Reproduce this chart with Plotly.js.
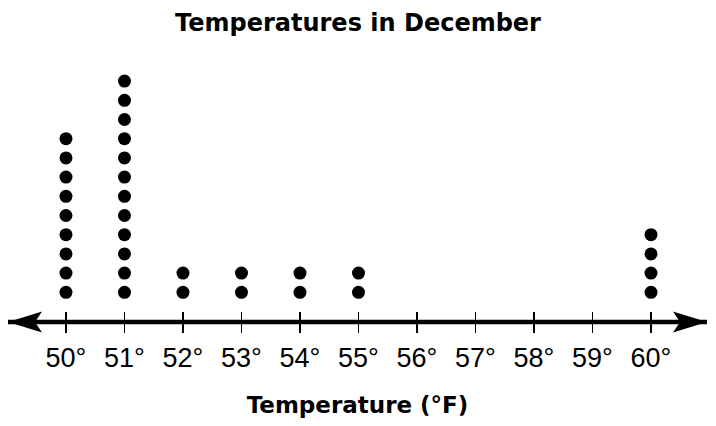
<!DOCTYPE html>
<html>
<head>
<meta charset="utf-8">
<script src="https://cdn.plot.ly/plotly-3.0.1.min.js"></script>
<style>
  html, body { margin: 0; padding: 0; background: #fff; }
  #plot { width: 716px; height: 426px; }
</style>
</head>
<body>
<div id="plot"></div>
<script>
// one dot per December day, stacked above its temperature
const temps = [50, 51, 52, 53, 54, 55, 56, 57, 58, 59, 60];
const dayCounts = [9, 12, 2, 2, 2, 2, 0, 0, 0, 0, 4];
const tickLabels = ['50°', '51°', '52°', '53°', '54°', '55°', '56°', '57°', '58°', '59°', '60°'];

const dotX = [];
const dotY = [];
temps.forEach((t, i) => {
  for (let k = 1; k <= dayCounts[i]; k++) {
    dotX.push(t);
    dotY.push(k);
  }
});

const xRange = [49.009, 60.957];
const labelFont = { family: 'Liberation Sans, Arial, sans-serif', size: 27, color: '#000' };
const boldFont = { family: 'DejaVu Sans, sans-serif', size: 24, color: '#000', weight: 'bold' };

const data = [
  {
    x: dotX,
    y: dotY,
    type: 'scatter',
    mode: 'markers',
    marker: { color: '#000', size: 13 },
    hoverinfo: 'x',
    showlegend: false,
  },
  {
    // keeps the second (inner tick) axis on the page
    x: [],
    y: [],
    xaxis: 'x2',
    type: 'scatter',
    mode: 'markers',
    showlegend: false,
    hoverinfo: 'skip',
  },
];

const layout = {
  width: 716,
  height: 426,
  margin: { l: 8, r: 9, t: 60, b: 104 },
  paper_bgcolor: '#fff',
  plot_bgcolor: '#fff',
  showlegend: false,
  title: {
    text: 'Temperatures in December',
    font: boldFont,
    x: 0.5,
    xanchor: 'center',
    y: 0.946,
    yref: 'container',
    yanchor: 'middle',
  },
  xaxis: {
    range: xRange,
    tickmode: 'array',
    tickvals: temps,
    ticktext: tickLabels,
    ticks: 'outside',
    ticklen: 10,
    tickwidth: 1.5,
    tickcolor: '#000',
    tickfont: labelFont,
    ticklabelstandoff: 2,
    showline: false,
    showgrid: false,
    zeroline: false,
    fixedrange: true,
    title: { text: 'Temperature (°F)', font: { ...boldFont, size: 23 }, standoff: 24 },
  },
  xaxis2: {
    range: xRange,
    overlaying: 'x',
    anchor: 'y',
    side: 'bottom',
    tickmode: 'array',
    tickvals: temps,
    ticks: 'inside',
    ticklen: 10,
    tickwidth: 1.5,
    tickcolor: '#000',
    showticklabels: false,
    showline: false,
    showgrid: false,
    zeroline: false,
    fixedrange: true,
  },
  yaxis: {
    range: [-0.547, 13.099],
    visible: false,
    fixedrange: true,
  },
  shapes: [
    {
      type: 'line',
      xref: 'paper', yref: 'paper',
      x0: 0, x1: 1, y0: 0, y1: 0,
      line: { color: '#000', width: 4.5 },
    },
    {
      type: 'path',
      xref: 'paper', yref: 'paper',
      xsizemode: 'pixel', ysizemode: 'pixel',
      xanchor: 0, yanchor: 0,
      path: 'M0,0 L34,10.5 L27,0 L34,-10.5 Z',
      fillcolor: '#000',
      line: { width: 0 },
    },
    {
      type: 'path',
      xref: 'paper', yref: 'paper',
      xsizemode: 'pixel', ysizemode: 'pixel',
      xanchor: 1, yanchor: 0,
      path: 'M0,0 L-34,10.5 L-27,0 L-34,-10.5 Z',
      fillcolor: '#000',
      line: { width: 0 },
    },
  ],
};

Plotly.newPlot('plot', data, layout, { displayModeBar: false, staticPlot: true });
</script>
</body>
</html>
